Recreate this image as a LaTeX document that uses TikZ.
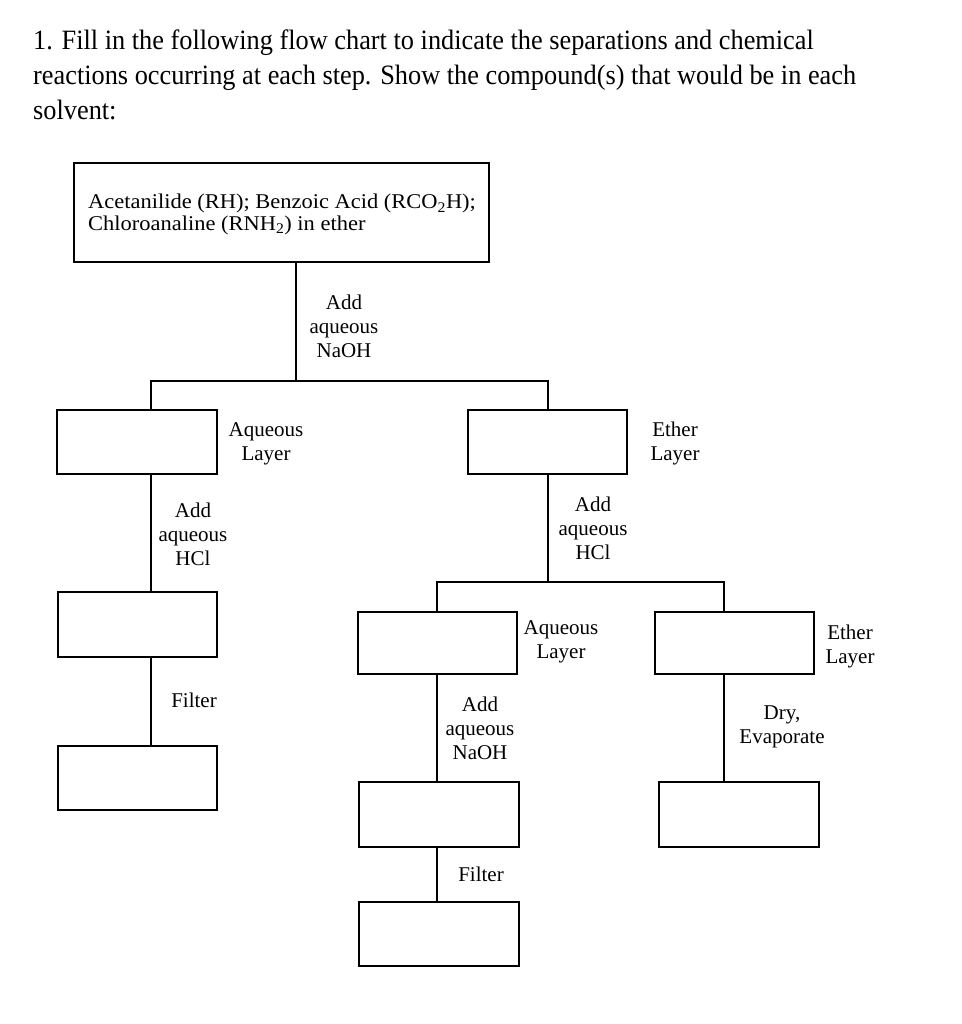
\documentclass[tikz,border=0pt]{standalone}
\usepackage{fontspec}
\setmainfont{Liberation Serif}
\newfontfamily\titlefont[FakeStretch=0.94]{Liberation Serif}
\newfontfamily\boxfont[FakeStretch=1.07]{Liberation Serif}
\tikzset{
  box/.style={draw, line width=1.4pt, inner sep=0pt, outer sep=0pt, anchor=north west, fill=white},
  lbl/.style={align=center, font=\fontsize{21}{24}\selectfont, inner sep=0pt},
  boxtxt/.style={anchor=base west, inner sep=0pt, font=\boxfont\fontsize{21}{24}\selectfont},
  ttl/.style={anchor=base west, inner sep=0pt, font=\titlefont\fontsize{28}{35}\selectfont},
  conn/.style={draw, line width=1.4pt}
}
\begin{document}
\begin{tikzpicture}[x=1pt,y=-1pt]
\useasboundingbox[fill=white] (0,0) rectangle (961,1024);

% title
\node[ttl] (t1) at (33,50) {1. Fill in the following flow chart to indicate the separations and chemical};
\node[ttl] (t2) at (33,85) {reactions occurring at each step. Show the compound(s) that would be in each};
\node[ttl] (t3) at (33,120) {solvent:};

% boxes
\node[box, minimum width=415pt, minimum height=99pt] (top) at (74,163) {};
\node[box, minimum width=160pt, minimum height=64pt] (A) at (57,410) {};
\node[box, minimum width=159pt, minimum height=64pt] (D) at (468,410) {};
\node[box, minimum width=159pt, minimum height=65pt] (B) at (58,592) {};
\node[box, minimum width=159pt, minimum height=64pt] (C) at (58,746) {};
\node[box, minimum width=159pt, minimum height=62pt] (E) at (358,612) {};
\node[box, minimum width=159pt, minimum height=62pt] (F) at (655,612) {};
\node[box, minimum width=160pt, minimum height=65pt] (G) at (359,782) {};
\node[box, minimum width=160pt, minimum height=64pt] (H) at (359,902) {};
\node[box, minimum width=160pt, minimum height=65pt] (I) at (659,782) {};

% text in top box
\node[boxtxt] (top1) at (88,209) {Acetanilide (RH); Benzoic Acid (RCO\textsubscript{2}H);};
\node[boxtxt] (top2) at (88,230) {Chloroanaline (RNH\textsubscript{2}) in ether};

% junction coordinates
\coordinate (jt) at (296,381);
\coordinate (jl) at (151,381);
\coordinate (jr) at (548,381);
\coordinate (kl) at (437,582);
\coordinate (kr) at (724,582);

% connectors
\draw[conn] (top.south -| jt) -- (jt);
\draw[conn] (A.north -| jl) -- (jl) -- (jr) -- (D.north -| jr);
\draw[conn] (A.south -| jl) -- (B.north -| jl);
\draw[conn] (B.south -| jl) -- (C.north -| jl);
\draw[conn] (D.south -| jr) -- (jr |- kl);
\draw[conn] (E.north -| kl) -- (kl) -- (kr) -- (F.north -| kr);
\draw[conn] (E.south -| kl) -- (G.north -| kl);
\draw[conn] (G.south -| kl) -- (H.north -| kl);
\draw[conn] (F.south -| kr) -- (I.north -| kr);

% labels
\node[lbl] (l1) at (344,326) {Add\\aqueous\\NaOH};
\node[lbl] (l2) at (266,444) {Aqueous\\Layer};
\node[lbl] (l3) at (675,443) {Ether\\Layer};
\node[lbl] (l4) at (193,534) {Add\\aqueous\\HCl};
\node[lbl] (l5) at (194,700) {Filter};
\node[lbl] (l6) at (593,528) {Add\\aqueous\\HCl};
\node[lbl] (l7) at (561,642) {Aqueous\\Layer};
\node[lbl] (l8) at (850,646) {Ether\\Layer};
\node[lbl] (l9) at (480,728) {Add\\aqueous\\NaOH};
\node[lbl] (l10) at (481,874) {Filter};
\node[lbl] (l11) at (782,727) {Dry,\\Evaporate};
\end{tikzpicture}
\end{document}
